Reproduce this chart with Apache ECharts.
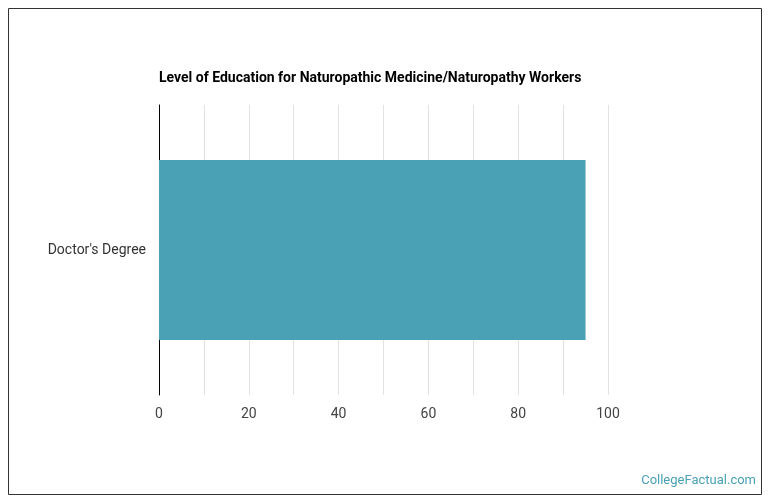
<!DOCTYPE html>
<html><head><meta charset="utf-8">
<script src="https://cdn.jsdelivr.net/npm/echarts@6/dist/echarts.min.js"></script>
<style>html,body{margin:0;padding:0;background:#fff}#c{width:770px;height:503px}</style>
</head><body><div id="c"></div>
<script>
const categories = ["Doctor's Degree"];
const values = [95];
const chart = echarts.init(document.getElementById('c'));
chart.setOption({
  animation:false,
  graphic:[
    {type:'rect',shape:{x:8.5,y:8.5,width:753,height:486},style:{fill:'none',stroke:'#333',lineWidth:1}},
    {type:'text',right:14,bottom:16,style:{text:'CollegeFactual.com',fill:'#4aa0b5',font:'13px Roboto'}}
  ],
  title:{text:'Level of Education for Naturopathic Medicine/Naturopathy Workers',left:154,top:66,
    textStyle:{fontFamily:'Roboto',fontSize:14,fontWeight:'bold',color:'#000'}},
  grid:{left:159,right:162,top:105,bottom:108,containLabel:false},
  xAxis:{type:'value',min:0,max:100,interval:10,
    axisLine:{show:false},axisTick:{show:false},
    axisLabel:{formatter:v=>v%20===0?v:'',color:'#444',fontFamily:'Roboto',fontSize:14,margin:12},
    splitLine:{lineStyle:{color:'#e2e2e2'}}},
  yAxis:{type:'category',data:categories,
    axisLine:{lineStyle:{color:'#000'}},axisTick:{show:false},
    axisLabel:{color:'#333',fontFamily:'Roboto',fontSize:14,margin:13}},
  series:[{type:'bar',data:values,barWidth:'62%',itemStyle:{color:'#4aa0b4'}}]
});
</script></body></html>
